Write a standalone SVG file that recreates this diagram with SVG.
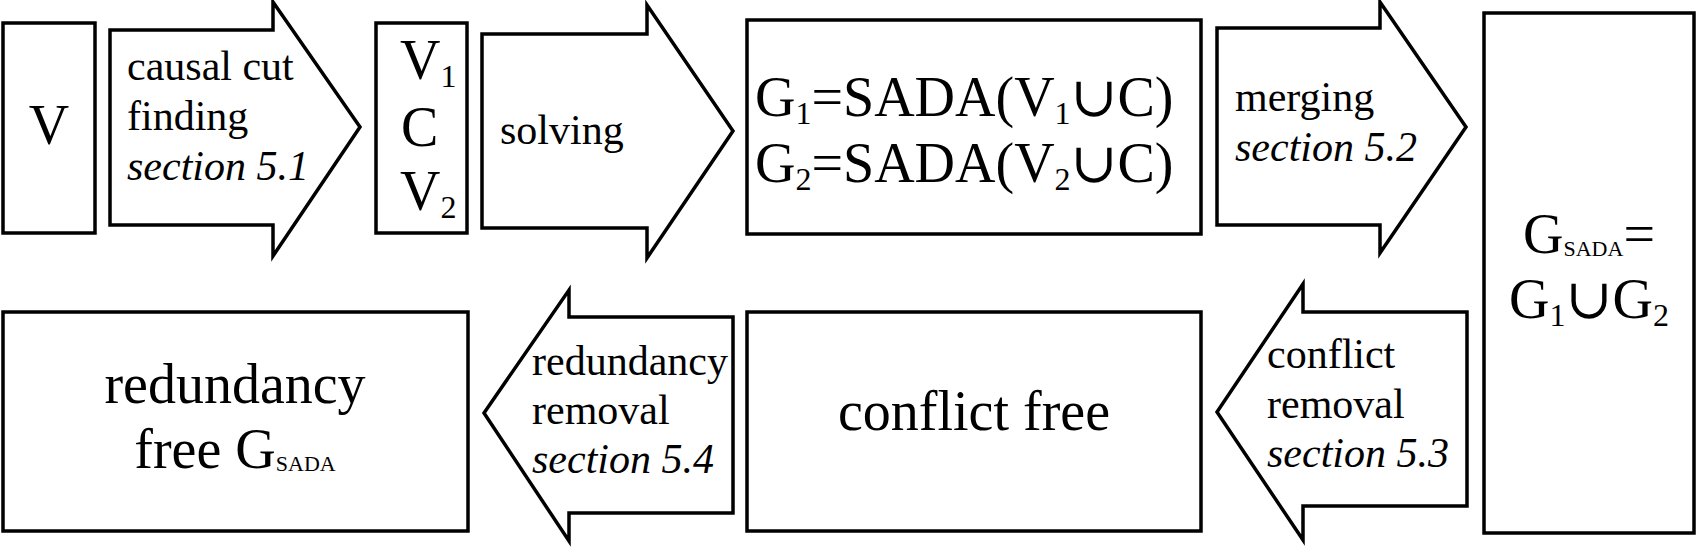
<svg xmlns="http://www.w3.org/2000/svg" width="1700" height="547" viewBox="0 0 1700 547" font-family="'Times New Roman', 'Liberation Serif', Times, serif">
<style>
.s{fill:#fff;stroke:#000;stroke-width:3.5;stroke-linejoin:miter}
text{font-family:"Times New Roman","Liberation Serif",Times,"DejaVu Serif",serif;fill:#000}
.m{font-size:42px}
.i{font-style:italic}
.b{font-size:56px}
</style>
<rect width="1700" height="547" fill="#fff"/>
<g id="n-v"><rect class="s" x="3" y="23" width="92" height="210"/><text class="b" x="49" y="144" text-anchor="middle">V</text></g>
<g id="n-vcv"><rect class="s" x="376" y="23" width="91" height="210"/>
<text class="b" x="400" y="79">V<tspan font-size="32" dy="8">1</tspan></text>
<text class="b" x="401" y="146">C</text>
<text class="b" x="400" y="210">V<tspan font-size="32" dy="8">2</tspan></text></g>
<g id="n-g"><rect class="s" x="747" y="20" width="454" height="214"/>
<text class="b" x="755" y="116">G<tspan font-size="32" dy="8">1</tspan><tspan dy="-8">=SADA(V</tspan><tspan font-size="32" dy="8">1</tspan><tspan dy="-8">∪C)</tspan></text>
<text class="b" x="755" y="182">G<tspan font-size="32" dy="8">2</tspan><tspan dy="-8">=SADA(V</tspan><tspan font-size="32" dy="8">2</tspan><tspan dy="-8">∪C)</tspan></text></g>
<g id="n-gsada"><rect class="s" x="1484" y="13" width="210" height="520"/>
<text class="b" x="1589" y="253" text-anchor="middle">G<tspan font-size="22" dy="3">SADA</tspan><tspan dy="-3">=</tspan></text>
<text class="b" x="1589" y="318" text-anchor="middle">G<tspan font-size="32" dy="8">1</tspan><tspan dy="-8">∪G</tspan><tspan font-size="32" dy="8">2</tspan></text></g>
<g id="n-cf"><rect class="s" x="747" y="312" width="454" height="219"/><text class="b" x="974" y="430" text-anchor="middle">conflict free</text></g>
<g id="n-rf"><rect class="s" x="3" y="312" width="465" height="219"/>
<text class="b" x="235" y="403" text-anchor="middle">redundancy</text>
<text class="b" x="235" y="468" text-anchor="middle">free G<tspan font-size="22" dy="3">SADA</tspan></text></g>
<g id="connectors">
<g id="a-cut"><polygon class="s" points="110,30 273,30 273,2 360,127 273,256 273,225 110,225"/>
<text class="m" x="127" y="80">causal cut</text><text class="m" x="127" y="130">finding</text><text class="m i" x="127" y="180">section 5.1</text></g>
<g id="a-solve"><polygon class="s" points="482,34 647,34 647,5 733,131 647,258 647,228 482,228"/>
<text class="m" x="500" y="144">solving</text></g>
<g id="a-merge"><polygon class="s" points="1217,28 1380,28 1380,2 1466,127 1380,253 1380,225 1217,225"/>
<text class="m" x="1235" y="111">merging</text><text class="m i" x="1235" y="161">section 5.2</text></g>
<g id="a-conf"><polygon class="s" points="1467,312 1303,312 1303,284 1217,412 1303,540 1303,506 1467,506"/>
<text class="m" x="1267" y="368">conflict</text><text class="m" x="1267" y="418">removal</text><text class="m i" x="1267" y="467">section 5.3</text></g>
<g id="a-red"><polygon class="s" points="733,317 569,317 569,290 484,413 569,541 569,513 733,513"/>
<text class="m" x="532" y="375">redundancy</text><text class="m" x="532" y="424">removal</text><text class="m i" x="532" y="473">section 5.4</text></g>
</g>
</svg>
